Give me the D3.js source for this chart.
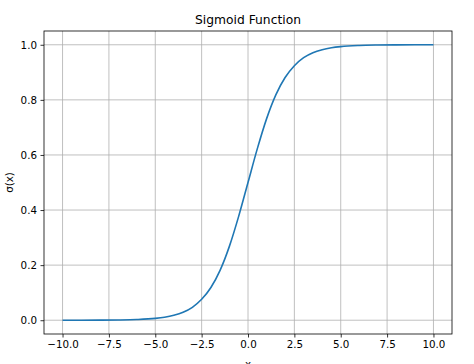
<!DOCTYPE html>
<html>
<head>
<meta charset="utf-8">
<script src="https://cdn.jsdelivr.net/npm/d3@7"></script>
<style>
body { margin:0; background:#fff; }
text { font-family: "DejaVu Sans", sans-serif; fill:#000; }
</style>
</head>
<body>
<div id="chart"></div>
<script>
var W = 474, H = 364;
var margin = {t:31, r:22, b:30, l:44};

// values
var xs = [-10,-9,-8,-7,-6,-5,-4.5,-4,-3.5,-3,-2.5,-2,-1.5,-1,-0.5,0,0.5,1,1.5,2,2.5,3,3.5,4,4.5,5,6,7,8,9,10];
var ys = [0.0000,0.0001,0.0003,0.0009,0.0025,0.0067,0.011,0.018,0.029,0.047,0.076,0.119,0.182,0.269,0.378,0.5,0.622,0.731,0.818,0.881,0.924,0.953,0.971,0.982,0.989,0.9933,0.9975,0.9991,0.9997,0.9999,1.0000];
var xTicks = [-10,-7.5,-5,-2.5,0,2.5,5,7.5,10];
var yTicks = [0,0.2,0.4,0.6,0.8,1.0];

var pts = xs.map(function(d,i){ return {x:d, y:ys[i]}; });

var svg = d3.select("#chart").append("svg").attr("width",W).attr("height",H);

var x = d3.scaleLinear().domain([-11,11]).range([margin.l, W-margin.r]);
var y = d3.scaleLinear().domain([-0.05,1.05]).range([H-margin.b, margin.t]);

// grid
svg.append("g").selectAll("line").data(xTicks).enter().append("line")
  .attr("x1",function(d){return x(d);}).attr("x2",function(d){return x(d);})
  .attr("y1",margin.t).attr("y2",H-margin.b)
  .attr("stroke","#b0b0b0").attr("stroke-width",0.8);
svg.append("g").selectAll("line").data(yTicks).enter().append("line")
  .attr("y1",function(d){return y(d);}).attr("y2",function(d){return y(d);})
  .attr("x1",margin.l).attr("x2",W-margin.r)
  .attr("stroke","#b0b0b0").attr("stroke-width",0.8);

// curve
var line = d3.line().x(function(d){return x(d.x);}).y(function(d){return y(d.y);}).curve(d3.curveMonotoneX);
svg.append("path").datum(pts).attr("d",line)
  .attr("fill","none").attr("stroke","#1f77b4").attr("stroke-width",1.6);

// axes
var xAxis = d3.axisBottom(x).tickValues(xTicks).tickSize(3.5).tickPadding(3.5)
  .tickFormat(function(d){ return d3.format(".1f")(d).replace("-","\u2212"); });
var yAxis = d3.axisLeft(y).tickValues(yTicks).tickSize(3.5).tickPadding(3.5)
  .tickFormat(d3.format(".1f"));

var gx = svg.append("g").attr("transform","translate(0,"+(H-margin.b)+")").call(xAxis);
var gy = svg.append("g").attr("transform","translate("+margin.l+",0)").call(yAxis);
[gx,gy].forEach(function(g){
  g.select(".domain").remove();
  g.selectAll("text").attr("font-size","10.3px").attr("font-family","DejaVu Sans").attr("fill","#000");
  g.selectAll("line").attr("stroke","#000").attr("stroke-width",0.8);
});

// frame
svg.append("rect").attr("x",margin.l).attr("y",margin.t)
  .attr("width",W-margin.r-margin.l).attr("height",H-margin.b-margin.t)
  .attr("fill","none").attr("stroke","#000").attr("stroke-width",0.8);

svg.append("text").attr("x",(margin.l+W-margin.r)/2).attr("y",24)
  .attr("text-anchor","middle").attr("font-size","12.3px").text("Sigmoid Function");
svg.append("text").attr("x",(margin.l+W-margin.r)/2).attr("y",H+3.5)
  .attr("text-anchor","middle").attr("font-size","10.3px").text("x");
svg.append("text").attr("transform","translate(13,"+((margin.t+H-margin.b)/2)+") rotate(-90)")
  .attr("text-anchor","middle").attr("font-size","10.3px").text("\u03c3(x)");
</script>
</body>
</html>
